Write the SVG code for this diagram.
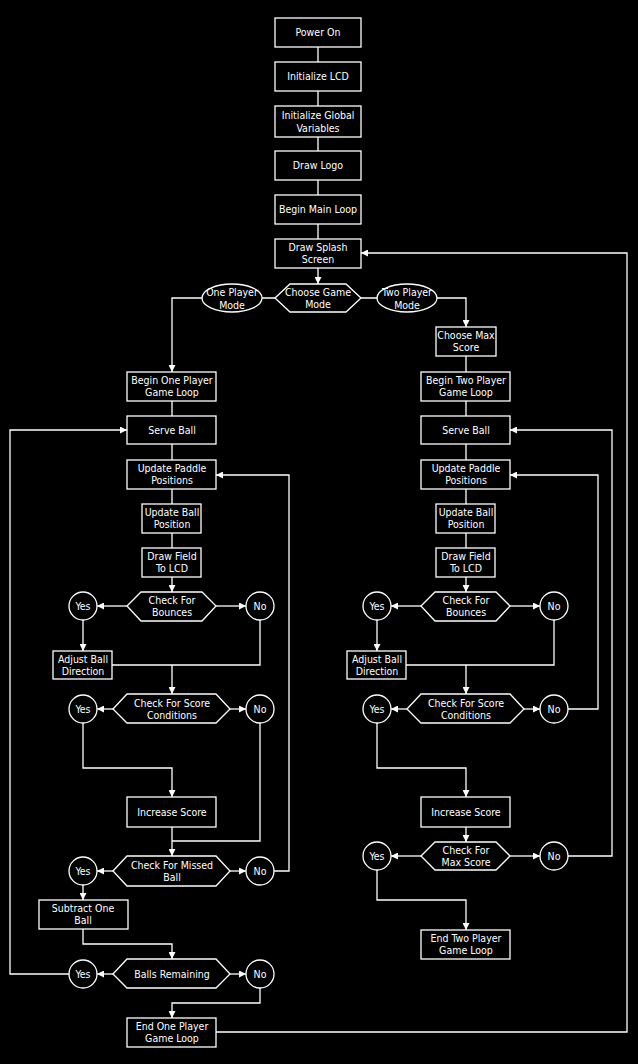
<svg xmlns="http://www.w3.org/2000/svg" width="638" height="1064" viewBox="0 0 638 1064">
<style>
.b{fill:#000;stroke:#fff;stroke-width:1.3}
.t{fill:#fff;font-family:"DejaVu Sans Condensed","Liberation Sans",sans-serif;font-size:10.5px;text-anchor:middle}
.c path{fill:none;stroke:#fff;stroke-width:1.3}
</style>
<defs><marker id="a" viewBox="0 0 10 10" refX="10" refY="5" markerWidth="7" markerHeight="7" orient="auto" markerUnits="userSpaceOnUse"><path d="M0,0L10,5L0,10z" fill="#fff"/></marker></defs>
<rect width="638" height="1064" fill="#000"/>
<g class="c">
<path d="M318,47V62M318,91V106M318,137V151M318,180V195M318,224V239M318,268V284" marker-end="url(#a)"/>
<path d="M275,298H262M202,298H172V372" marker-end="url(#a)"/>
<path d="M361,298H377M437,298H466V327" marker-end="url(#a)"/>
<path d="M466,356V372M466,401V416M466,444V460M466,489V504M466,533V548M466,577V592" marker-end="url(#a)"/>
<path d="M172,401V416M172,444V460M172,489V504M172,533V548M172,577V592" marker-end="url(#a)"/>
<path d="M127,606H97" marker-end="url(#a)"/><path d="M216,606H246" marker-end="url(#a)"/>
<path d="M83,620V651" marker-end="url(#a)"/>
<path d="M260,620V665H112M172,665V694" marker-end="url(#a)"/>
<path d="M113,709H97" marker-end="url(#a)"/><path d="M230,709H246" marker-end="url(#a)"/>
<path d="M83,723V768H172V797" marker-end="url(#a)"/>
<path d="M260,723V841H172M172,827V856" marker-end="url(#a)"/>
<path d="M113,871H97" marker-end="url(#a)"/><path d="M230,871H246" marker-end="url(#a)"/>
<path d="M274,871H289V475H216" marker-end="url(#a)"/>
<path d="M83,885V900" marker-end="url(#a)"/>
<path d="M83,929V944H172V959" marker-end="url(#a)"/>
<path d="M113,974H97" marker-end="url(#a)"/><path d="M230,974H246" marker-end="url(#a)"/>
<path d="M69,974H10V430H127" marker-end="url(#a)"/>
<path d="M260,988V1003H172V1018" marker-end="url(#a)"/>
<path d="M216,1032H627V253H361" marker-end="url(#a)"/>
<path d="M421,606H391" marker-end="url(#a)"/><path d="M510,606H540" marker-end="url(#a)"/>
<path d="M377,620V651" marker-end="url(#a)"/>
<path d="M554,620V665H406M466,665V694" marker-end="url(#a)"/>
<path d="M407,709H391" marker-end="url(#a)"/><path d="M524,709H540" marker-end="url(#a)"/>
<path d="M568,709H598V475H510" marker-end="url(#a)"/>
<path d="M377,723V768H466V797" marker-end="url(#a)"/>
<path d="M466,827V842" marker-end="url(#a)"/>
<path d="M421,856H391" marker-end="url(#a)"/><path d="M510,856H540" marker-end="url(#a)"/>
<path d="M568,856H612V430H510" marker-end="url(#a)"/>
<path d="M377,870V900H466V930" marker-end="url(#a)"/>
</g>
<g id="power"><rect class="b" x="275" y="18" width="86" height="29"/><text class="t" x="318" y="36">Power On</text></g>
<g id="lcd"><rect class="b" x="275" y="62" width="86" height="29"/><text class="t" x="318" y="80">Initialize LCD</text></g>
<g id="glob"><rect class="b" x="275" y="106" width="86" height="31"/><text class="t" x="318" y="119">Initialize Global</text><text class="t" x="318" y="132">Variables</text></g>
<g id="logo"><rect class="b" x="275" y="151" width="86" height="29"/><text class="t" x="318" y="169">Draw Logo</text></g>
<g id="mainloop"><rect class="b" x="275" y="195" width="86" height="29"/><text class="t" x="318" y="213">Begin Main Loop</text></g>
<g id="splash"><rect class="b" x="275" y="239" width="86" height="29"/><text class="t" x="318" y="251">Draw Splash</text><text class="t" x="318" y="263">Screen</text></g>
<g id="mode"><polygon class="b" points="275,298 290,284 346,284 361,298 346,312 290,312"/><text class="t" x="318" y="296">Choose Game</text><text class="t" x="318" y="308">Mode</text></g>
<g id="one"><ellipse class="b" cx="232" cy="298" rx="30" ry="14"/><text class="t" x="232" y="296">One Player</text><text class="t" x="232" y="309">Mode</text></g>
<g id="two"><ellipse class="b" cx="407" cy="298" rx="30" ry="14"/><text class="t" x="407" y="296">Two Player</text><text class="t" x="407" y="309">Mode</text></g>
<g id="maxs"><rect class="b" x="436" y="327" width="60" height="29"/><text class="t" x="466" y="339">Choose Max</text><text class="t" x="466" y="351">Score</text></g>
<!-- left -->
<g id="b1"><rect class="b" x="127" y="372" width="89" height="29"/><text class="t" x="172" y="384">Begin One Player</text><text class="t" x="172" y="396">Game Loop</text></g>
<g id="s1"><rect class="b" x="127" y="416" width="89" height="28"/><text class="t" x="172" y="434">Serve Ball</text></g>
<g id="p1"><rect class="b" x="127" y="460" width="89" height="29"/><text class="t" x="172" y="472">Update Paddle</text><text class="t" x="172" y="484">Positions</text></g>
<g id="u1"><rect class="b" x="142" y="504" width="59" height="29"/><text class="t" x="172" y="516">Update Ball</text><text class="t" x="172" y="528">Position</text></g>
<g id="d1"><rect class="b" x="142" y="548" width="59" height="29"/><text class="t" x="172" y="560">Draw Field</text><text class="t" x="172" y="572">To LCD</text></g>
<g id="cb1"><polygon class="b" points="127,606 141,592 202,592 216,606 202,621 141,621"/><text class="t" x="172" y="604">Check For</text><text class="t" x="172" y="616">Bounces</text></g>
<g id="y1"><circle class="b" cx="83" cy="606" r="14"/><text class="t" x="83" y="610">Yes</text></g>
<g id="n1"><circle class="b" cx="260" cy="606" r="14"/><text class="t" x="260" y="610">No</text></g>
<g id="a1"><rect class="b" x="53" y="651" width="59" height="28"/><text class="t" x="83" y="663">Adjust Ball</text><text class="t" x="83" y="675">Direction</text></g>
<g id="cs1"><polygon class="b" points="113,709 127,694 216,694 230,709 216,723 127,723"/><text class="t" x="172" y="707">Check For Score</text><text class="t" x="172" y="719">Conditions</text></g>
<g id="y2"><circle class="b" cx="83" cy="709" r="14"/><text class="t" x="83" y="713">Yes</text></g>
<g id="n2"><circle class="b" cx="260" cy="709" r="14"/><text class="t" x="260" y="713">No</text></g>
<g id="i1"><rect class="b" x="127" y="797" width="89" height="30"/><text class="t" x="172" y="816">Increase Score</text></g>
<g id="cm1"><polygon class="b" points="113,871 127,856 216,856 230,871 216,886 127,886"/><text class="t" x="172" y="869">Check For Missed</text><text class="t" x="172" y="881">Ball</text></g>
<g id="y3"><circle class="b" cx="83" cy="871" r="14"/><text class="t" x="83" y="875">Yes</text></g>
<g id="n3"><circle class="b" cx="260" cy="871" r="14"/><text class="t" x="260" y="875">No</text></g>
<g id="sub"><rect class="b" x="39" y="900" width="89" height="29"/><text class="t" x="83" y="912">Subtract One</text><text class="t" x="83" y="924">Ball</text></g>
<g id="br"><polygon class="b" points="113,974 127,959 216,959 230,974 216,988 127,988"/><text class="t" x="172" y="978">Balls Remaining</text></g>
<g id="y4"><circle class="b" cx="83" cy="974" r="14"/><text class="t" x="83" y="978">Yes</text></g>
<g id="n4"><circle class="b" cx="260" cy="974" r="14"/><text class="t" x="260" y="978">No</text></g>
<g id="e1"><rect class="b" x="127" y="1018" width="89" height="29"/><text class="t" x="172" y="1030">End One Player</text><text class="t" x="172" y="1042">Game Loop</text></g>
<!-- right -->
<g id="b2"><rect class="b" x="421" y="372" width="89" height="29"/><text class="t" x="466" y="384">Begin Two Player</text><text class="t" x="466" y="396">Game Loop</text></g>
<g id="s2"><rect class="b" x="421" y="416" width="89" height="28"/><text class="t" x="466" y="434">Serve Ball</text></g>
<g id="p2"><rect class="b" x="421" y="460" width="89" height="29"/><text class="t" x="466" y="472">Update Paddle</text><text class="t" x="466" y="484">Positions</text></g>
<g id="u2"><rect class="b" x="436" y="504" width="59" height="29"/><text class="t" x="466" y="516">Update Ball</text><text class="t" x="466" y="528">Position</text></g>
<g id="d2"><rect class="b" x="436" y="548" width="59" height="29"/><text class="t" x="466" y="560">Draw Field</text><text class="t" x="466" y="572">To LCD</text></g>
<g id="cb2"><polygon class="b" points="421,606 435,592 496,592 510,606 496,621 435,621"/><text class="t" x="466" y="604">Check For</text><text class="t" x="466" y="616">Bounces</text></g>
<g id="y5"><circle class="b" cx="377" cy="606" r="14"/><text class="t" x="377" y="610">Yes</text></g>
<g id="n5"><circle class="b" cx="554" cy="606" r="14"/><text class="t" x="554" y="610">No</text></g>
<g id="a2"><rect class="b" x="347" y="651" width="59" height="28"/><text class="t" x="377" y="663">Adjust Ball</text><text class="t" x="377" y="675">Direction</text></g>
<g id="cs2"><polygon class="b" points="407,709 421,694 510,694 524,709 510,723 421,723"/><text class="t" x="466" y="707">Check For Score</text><text class="t" x="466" y="719">Conditions</text></g>
<g id="y6"><circle class="b" cx="377" cy="709" r="14"/><text class="t" x="377" y="713">Yes</text></g>
<g id="n6"><circle class="b" cx="554" cy="709" r="14"/><text class="t" x="554" y="713">No</text></g>
<g id="i2"><rect class="b" x="421" y="797" width="89" height="30"/><text class="t" x="466" y="816">Increase Score</text></g>
<g id="cx2"><polygon class="b" points="421,856 435,842 496,842 510,856 496,870 435,870"/><text class="t" x="466" y="854">Check For</text><text class="t" x="466" y="866">Max Score</text></g>
<g id="y7"><circle class="b" cx="377" cy="856" r="14"/><text class="t" x="377" y="860">Yes</text></g>
<g id="n7"><circle class="b" cx="554" cy="856" r="14"/><text class="t" x="554" y="860">No</text></g>
<g id="e2"><rect class="b" x="421" y="930" width="89" height="29"/><text class="t" x="466" y="942">End Two Player</text><text class="t" x="466" y="954">Game Loop</text></g>
</svg>
